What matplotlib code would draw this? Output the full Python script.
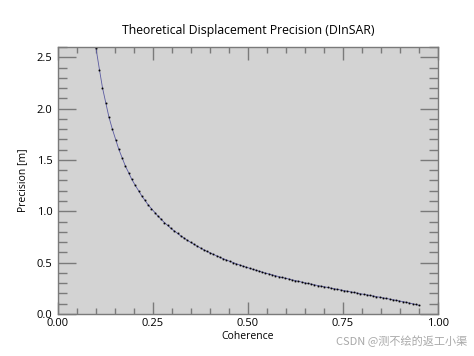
import matplotlib
matplotlib.use("Agg")
import matplotlib.pyplot as plt
from matplotlib.ticker import MultipleLocator, FormatStrFormatter

# coherence samples
coherence = [0.100, 0.109, 0.117, 0.126, 0.134, 0.143, 0.152, 0.160, 0.169, 0.177,
             0.186, 0.194, 0.203, 0.212, 0.220, 0.229, 0.237, 0.246, 0.255, 0.263,
             0.272, 0.280, 0.289, 0.297, 0.306, 0.315, 0.323, 0.332, 0.340, 0.349,
             0.358, 0.366, 0.375, 0.383, 0.392, 0.401, 0.409, 0.418, 0.426, 0.435,
             0.443, 0.452, 0.461, 0.469, 0.478, 0.486, 0.495, 0.504, 0.512, 0.521,
             0.529, 0.538, 0.546, 0.555, 0.564, 0.572, 0.581, 0.589, 0.598, 0.607,
             0.615, 0.624, 0.632, 0.641, 0.649, 0.658, 0.667, 0.675, 0.684, 0.692,
             0.701, 0.710, 0.718, 0.727, 0.735, 0.744, 0.753, 0.761, 0.770, 0.778,
             0.787, 0.795, 0.804, 0.813, 0.821, 0.830, 0.838, 0.847, 0.856, 0.864,
             0.873, 0.881, 0.890, 0.898, 0.907, 0.916, 0.924, 0.933, 0.941, 0.950]

# precision [m]
precision = [2.587, 2.380, 2.204, 2.051, 1.918, 1.800, 1.696, 1.603, 1.519, 1.443,
             1.375, 1.312, 1.254, 1.201, 1.152, 1.106, 1.064, 1.025, 0.988, 0.953,
             0.921, 0.890, 0.862, 0.834, 0.809, 0.784, 0.761, 0.739, 0.718, 0.698,
             0.679, 0.661, 0.643, 0.626, 0.610, 0.595, 0.580, 0.566, 0.552, 0.538,
             0.526, 0.513, 0.501, 0.489, 0.478, 0.467, 0.456, 0.446, 0.436, 0.426,
             0.417, 0.407, 0.398, 0.390, 0.381, 0.373, 0.364, 0.356, 0.349, 0.341,
             0.333, 0.326, 0.319, 0.311, 0.304, 0.297, 0.291, 0.284, 0.277, 0.271,
             0.265, 0.258, 0.252, 0.246, 0.240, 0.234, 0.228, 0.222, 0.216, 0.210,
             0.204, 0.198, 0.192, 0.186, 0.181, 0.175, 0.169, 0.163, 0.157, 0.151,
             0.145, 0.139, 0.133, 0.127, 0.121, 0.114, 0.107, 0.100, 0.093, 0.085]

plt.rcParams['font.family'] = ['Open Sans', 'DejaVu Sans']

fig = plt.figure(figsize=(4.74, 3.56), dpi=100)
ax = fig.add_axes([0.1224, 0.118, 0.8016, 0.750])
ax.set_facecolor('#d3d3d3')

ax.plot(coherence, precision, color='#5a5aa0', lw=0.6,
        marker='s', ms=0.9, mfc='black', mec='black', mew=0.3)

ax.set_xlim(0, 1)
ax.set_ylim(0, 2.6)
ax.xaxis.set_major_locator(MultipleLocator(0.25))
ax.xaxis.set_minor_locator(MultipleLocator(0.05))
ax.yaxis.set_major_locator(MultipleLocator(0.5))
ax.yaxis.set_minor_locator(MultipleLocator(0.1))
ax.xaxis.set_major_formatter(FormatStrFormatter('%.2f'))
ax.yaxis.set_major_formatter(FormatStrFormatter('%.1f'))

tc = '#7a7a7a'
ax.tick_params(axis='x', which='major', direction='in', length=9, width=1,
               color=tc, top=True, labelsize=8, pad=3)
ax.tick_params(axis='x', which='minor', direction='in', length=4.5, width=1,
               color=tc, top=True)
ax.tick_params(axis='y', which='major', direction='in', length=13, width=1,
               color=tc, right=True, labelsize=8, pad=4)
ax.tick_params(axis='y', which='minor', direction='in', length=6.5, width=1,
               color=tc, right=True)
for s in ax.spines.values():
    s.set_color(tc)
    s.set_linewidth(1)

ax.set_title("Theoretical Displacement Precision (DInSAR)", fontsize=8.8,
             color='black', pad=9)
ax.set_xlabel("Coherence", fontsize=7.5, labelpad=1)
ax.set_ylabel("Precision [m]", fontsize=7.5, labelpad=6)

fig.text(0.985, 0.025, "CSDN @测不绘的返工小渠", ha='right', va='bottom',
         fontsize=8, color='#a8a8a8',
         family=['Noto Sans CJK SC', 'DejaVu Sans'])

fig.savefig("out.png", dpi=100, facecolor='white')
